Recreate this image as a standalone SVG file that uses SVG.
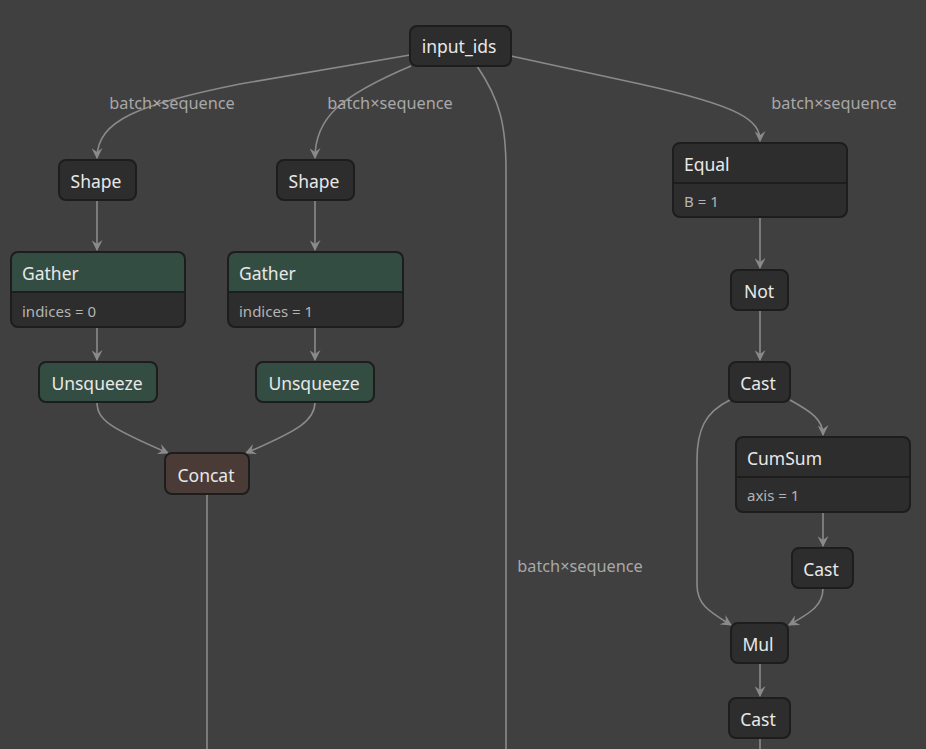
<svg xmlns="http://www.w3.org/2000/svg" width="926" height="749" viewBox="0 0 926 749">
<style>
.bg{fill:#404040}
.n{fill:#2d2d2d;stroke:#1d1d1d;stroke-width:2}
.g{fill:#344d42}
.div{stroke:#1d1d1d;stroke-width:2}
.t{font-family:"Noto Sans","Open Sans",sans-serif;font-size:17.5px;fill:#e8e8e8}
.a{font-family:"Noto Sans","Open Sans",sans-serif;font-size:15px;fill:#b4b4b4}
.l{font-family:"Noto Sans","Open Sans",sans-serif;font-size:16.3px;fill:#a8a8a8}
.e{fill:none;stroke:#8a8a8a;stroke-width:1.6}
</style>
<defs>
<marker id="arr" viewBox="0 0 10 10" refX="9" refY="5" markerWidth="11" markerHeight="11" markerUnits="userSpaceOnUse" orient="auto">
<path d="M0,0 L10,5 L0,10 L3.5,5 z" fill="#8a8a8a"/>
</marker>
</defs>
<rect class="bg" x="0" y="0" width="926" height="749"/>

<g id="connectors">
<path class="e" marker-end="url(#arr)" d="M410,55 L240,84 C140,104 97,120 97,158"/>
<path class="e" marker-end="url(#arr)" d="M411,66 C340,96 315,118 315,158"/>
<path class="e" marker-end="url(#arr)" d="M511,56 L640,84 C740,106 760,120 760,141"/>
<path class="e" d="M477,66 C500,100 506,125 506,170 L506,749"/>
<path class="e" marker-end="url(#arr)" d="M97,200 L97,250"/>
<path class="e" marker-end="url(#arr)" d="M315,200 L315,250"/>
<path class="e" marker-end="url(#arr)" d="M97,327 L97,360"/>
<path class="e" marker-end="url(#arr)" d="M315,327 L315,360"/>
<path class="e" marker-end="url(#arr)" d="M97,402 C97,420 110,428 168,453"/>
<path class="e" marker-end="url(#arr)" d="M315,402 C315,420 300,430 246,453"/>
<path class="e" d="M207,494 L207,749"/>
<path class="e" marker-end="url(#arr)" d="M760,217 L760,268"/>
<path class="e" marker-end="url(#arr)" d="M760,310 L760,360"/>
<path class="e" marker-end="url(#arr)" d="M790,400 C812,412 823,420 823,435"/>
<path class="e" marker-end="url(#arr)" d="M730,400 C705,412 697,430 697,460 L697,585 C697,605 710,612 731,625"/>
<path class="e" marker-end="url(#arr)" d="M823,512 L823,546"/>
<path class="e" marker-end="url(#arr)" d="M823,588 C823,605 812,612 789,625"/>
<path class="e" marker-end="url(#arr)" d="M760,663 L760,696"/>
<path class="e" d="M760,738 L760,749"/>
<text class="l" x="172" y="109" text-anchor="middle">batch×sequence</text>
<text class="l" x="390" y="109" text-anchor="middle">batch×sequence</text>
<text class="l" x="834" y="109" text-anchor="middle">batch×sequence</text>
<text class="l" x="580" y="572" text-anchor="middle">batch×sequence</text>
</g>

<g id="input_ids">
<rect class="n" x="410" y="26" width="101" height="40" rx="7"/>
<text class="t" x="459" y="53" text-anchor="middle">input_ids</text>
</g>

<g id="shape0">
<rect class="n" x="59" y="160" width="77" height="40" rx="7"/>
<text class="t" x="96" y="188" text-anchor="middle">Shape</text>
</g>
<g id="shape1">
<rect class="n" x="277" y="160" width="77" height="40" rx="7"/>
<text class="t" x="314" y="188" text-anchor="middle">Shape</text>
</g>

<g id="gather0">
<path class="g" d="M11,292 L11,259 Q11,252 18,252 L178,252 Q185,252 185,259 L185,292 Z"/>
<path d="M11,292 L185,292 L185,320 Q185,327 178,327 L18,327 Q11,327 11,320 Z" fill="#2d2d2d"/>
<rect x="11" y="252" width="174" height="75" rx="7" fill="none" stroke="#1d1d1d" stroke-width="2"/>
<line class="div" x1="11" y1="292" x2="185" y2="292"/>
<text class="t" x="22" y="280">Gather</text>
<text class="a" x="22" y="317">indices = 0</text>
</g>
<g id="gather1">
<path class="g" d="M228,292 L228,259 Q228,252 235,252 L396,252 Q403,252 403,259 L403,292 Z"/>
<path d="M228,292 L403,292 L403,320 Q403,327 396,327 L235,327 Q228,327 228,320 Z" fill="#2d2d2d"/>
<rect x="228" y="252" width="175" height="75" rx="7" fill="none" stroke="#1d1d1d" stroke-width="2"/>
<line class="div" x1="228" y1="292" x2="403" y2="292"/>
<text class="t" x="239" y="280">Gather</text>
<text class="a" x="239" y="317">indices = 1</text>
</g>

<g id="unsqueeze0">
<rect class="n" x="39" y="362" width="118" height="40" rx="7" style="fill:#344d42"/>
<text class="t" x="97" y="390" text-anchor="middle">Unsqueeze</text>
</g>
<g id="unsqueeze1">
<rect class="n" x="256" y="362" width="118" height="40" rx="7" style="fill:#344d42"/>
<text class="t" x="314" y="390" text-anchor="middle">Unsqueeze</text>
</g>

<g id="concat">
<rect class="n" x="165" y="453" width="84" height="41" rx="7" style="fill:#4a3b37"/>
<text class="t" x="206" y="482" text-anchor="middle">Concat</text>
</g>

<g id="equal">
<rect class="n" x="673" y="143" width="174" height="74" rx="7"/>
<line class="div" x1="673" y1="183" x2="847" y2="183"/>
<text class="t" x="684" y="171">Equal</text>
<text class="a" x="684" y="207">B = 1</text>
</g>

<g id="not">
<rect class="n" x="731" y="270" width="57" height="40" rx="7"/>
<text class="t" x="759" y="298" text-anchor="middle">Not</text>
</g>

<g id="cast0">
<rect class="n" x="729" y="362" width="61" height="40" rx="7"/>
<text class="t" x="758" y="390" text-anchor="middle">Cast</text>
</g>

<g id="cumsum">
<rect class="n" x="736" y="437" width="174" height="75" rx="7"/>
<line class="div" x1="736" y1="477" x2="910" y2="477"/>
<text class="t" x="747" y="465">CumSum</text>
<text class="a" x="747" y="501">axis = 1</text>
</g>

<g id="cast1">
<rect class="n" x="792" y="548" width="61" height="40" rx="7"/>
<text class="t" x="821" y="576" text-anchor="middle">Cast</text>
</g>

<g id="mul">
<rect class="n" x="731" y="623" width="57" height="40" rx="7"/>
<text class="t" x="758" y="651" text-anchor="middle">Mul</text>
</g>

<g id="cast2">
<rect class="n" x="729" y="698" width="61" height="40" rx="7"/>
<text class="t" x="758" y="726" text-anchor="middle">Cast</text>
</g>
</svg>
